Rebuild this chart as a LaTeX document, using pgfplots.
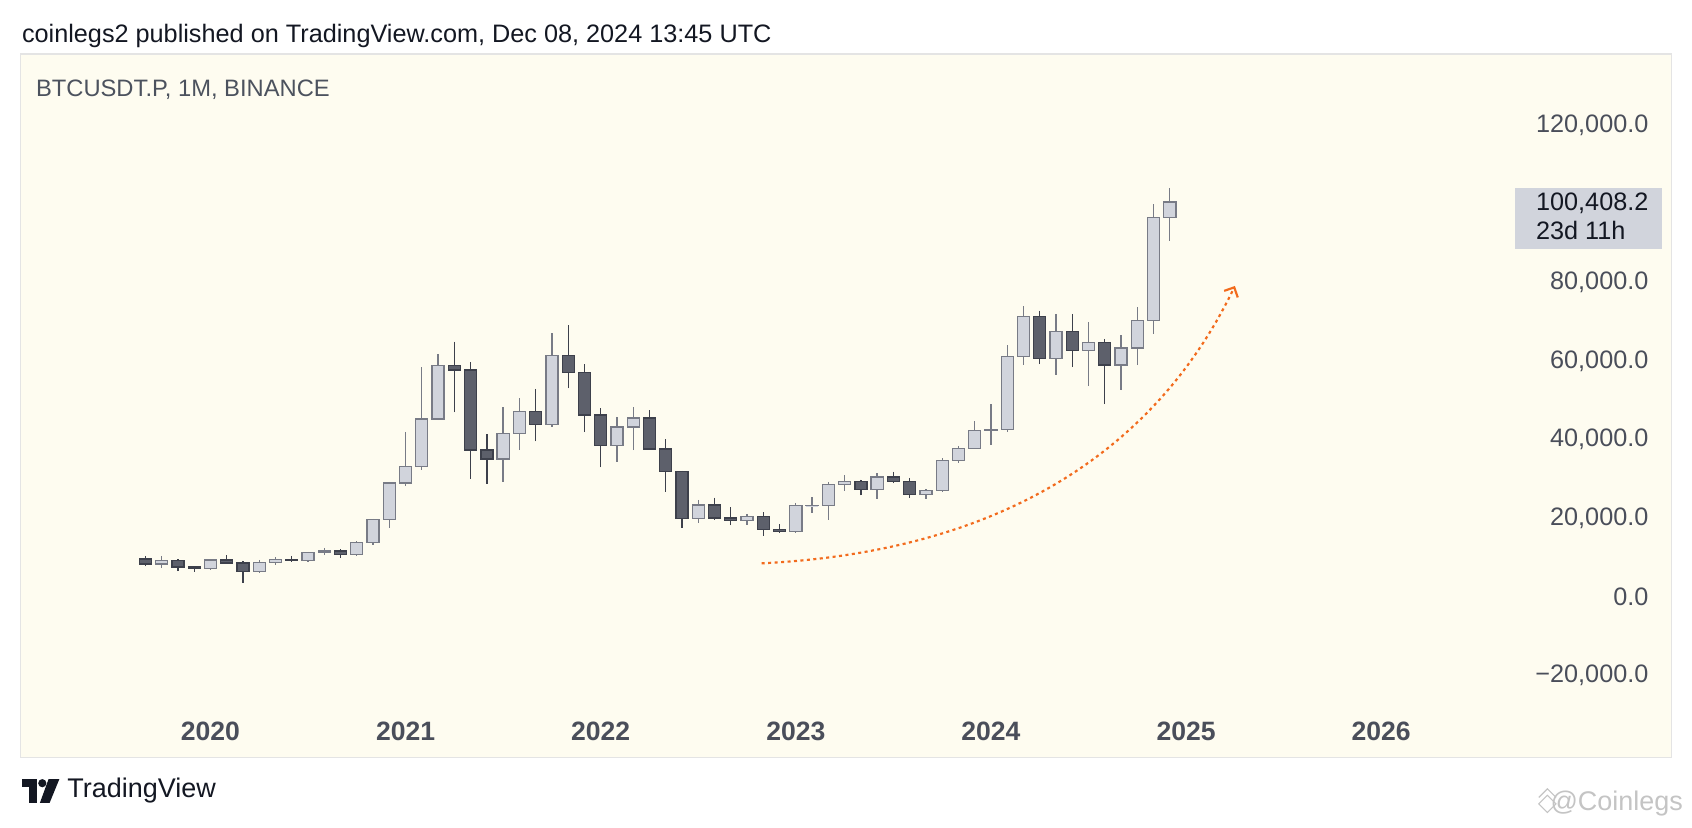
\documentclass[border=0pt]{standalone}
\usepackage{fontspec}
\setmainfont{Liberation Sans}
\usepackage{pgfplots}
\usepackage{pgfplotstable}
\pgfplotsset{compat=1.18}
\usepgfplotslibrary{statistics}
\usetikzlibrary{arrows.meta}
\definecolor{panelbg}{HTML}{FEFCF0}
\definecolor{panelborder}{HTML}{E4E4E4}
\definecolor{upfill}{HTML}{D1D4DC}
\definecolor{upline}{HTML}{787B86}
\definecolor{dnfill}{HTML}{5D606B}
\definecolor{dnline}{HTML}{3D404B}
\definecolor{txt}{HTML}{131722}
\definecolor{sub}{HTML}{4C525E}
\definecolor{ticktxt}{HTML}{4A4E5A}
\definecolor{arrowc}{HTML}{F26B1D}
\definecolor{wm}{HTML}{C4C4C4}

% BTCUSDT.P monthly candles, values in thousands of USDT; x = months from Jan 2020
\pgfplotstableread{
x o h l c
-4 9.60 10.40 7.70 8.30
-3 8.30 10.40 7.30 9.15
-2 9.15 9.50 6.50 7.55
-1 7.55 7.75 6.40 7.20
0 7.20 9.60 6.85 9.35
1 9.35 10.50 8.45 8.55
2 8.55 9.20 3.60 6.40
3 6.40 9.45 6.15 8.63
4 8.63 10.08 8.10 9.45
5 9.45 10.40 8.90 9.14
6 9.14 11.45 8.98 11.34
7 11.34 12.48 10.53 11.65
8 11.65 12.06 9.88 10.78
9 10.78 14.10 10.38 13.80
10 13.80 19.90 13.20 19.70
11 19.70 29.30 17.60 28.95
12 28.95 42.00 28.10 33.10
13 33.10 58.40 32.30 45.20
14 45.20 61.80 44.90 58.80
15 58.80 64.90 46.90 57.70
16 57.70 59.60 30.00 37.30
17 37.30 41.30 28.80 35.00
18 35.00 48.20 29.20 41.50
19 41.50 50.50 37.30 47.10
20 47.10 52.90 39.50 43.80
21 43.80 67.00 43.20 61.30
22 61.30 69.00 53.00 57.00
23 57.00 59.10 41.90 46.20
24 46.20 47.95 32.90 38.50
25 38.50 45.80 34.30 43.20
26 43.20 48.20 37.20 45.50
27 45.50 47.45 37.60 37.60
28 37.60 40.00 26.70 31.80
29 31.80 32.00 17.60 19.95
30 19.95 24.70 18.80 23.30
31 23.30 25.20 19.55 20.05
32 20.05 22.80 18.15 19.42
33 19.42 21.10 18.20 20.49
34 20.49 21.48 15.45 17.16
35 17.16 18.40 16.25 16.54
36 16.54 23.96 16.50 23.12
37 23.12 25.25 21.35 23.14
38 23.14 29.20 19.55 28.46
39 28.46 31.00 26.94 29.25
40 29.25 29.82 25.80 27.20
41 27.20 31.45 24.75 30.47
42 30.47 31.80 28.85 29.23
43 29.23 30.25 25.15 25.93
44 25.93 27.48 24.90 26.96
45 26.96 35.20 26.55 34.65
46 34.65 38.45 34.10 37.72
47 37.72 44.70 37.60 42.28
48 42.28 48.95 38.55 42.58
49 42.58 64.00 41.88 61.16
50 61.16 73.88 59.00 71.30
51 71.30 72.80 59.15 60.65
52 60.65 72.00 56.50 67.50
53 67.50 71.98 58.40 62.70
54 62.70 70.00 53.50 64.60
55 64.60 65.60 49.00 58.95
56 58.95 66.50 52.50 63.30
57 63.30 73.60 58.85 70.25
58 70.25 99.80 66.80 96.40
59 96.40 104.00 90.50 100.41
}\btc

\pgfplotsset{
  upcandle/.style={draw=upline, fill=upfill, line width=0.6pt, mark=none, solid},
  dncandle/.style={draw=dnline, fill=dnfill, line width=0.6pt, mark=none, solid},
}

\begin{document}
\begin{tikzpicture}
\useasboundingbox (0,0) rectangle (784pt,383.5pt);
\begin{axis}[
  at={(9.5pt,32.5pt)}, anchor=south west,
  scale only axis, width=765pt, height=326pt,
  xmin=-11.68, xmax=89.85, ymin=-40.9, ymax=138.07,
  axis background/.style={fill=panelbg},
  axis line style={draw=panelborder, line width=0.6pt},
  xtick={0,12,24,36,48,60,72},
  xticklabels={2020,2021,2022,2023,2024,2025,2026},
  ytick={-20,0,20,40,60,80,120},
  yticklabels={{−20,000.0},{0.0},{20,000.0},{40,000.0},{60,000.0},{80,000.0},{120,000.0}},
  major tick length=0pt, tick style={draw=none},
  xticklabel style={anchor=center, yshift=12pt, inner sep=0pt,
    font=\fontsize{12.3}{13}\selectfont\bfseries, text=ticktxt},
  yticklabel pos=right,
  yticklabel style={anchor=east, xshift=-10.5pt, inner sep=0pt,
    font=\fontsize{11.7}{12}\selectfont, text=ticktxt},
  boxplot/draw direction=y,
  boxplot/box extend=0.74, boxplot/whisker extend=0,
]
\pgfplotsinvokeforeach{0,...,63}{%
  \pgfplotstablegetelem{#1}{x}\of\btc\let\vX\pgfplotsretval
  \pgfplotstablegetelem{#1}{o}\of\btc\let\vO\pgfplotsretval
  \pgfplotstablegetelem{#1}{h}\of\btc\let\vH\pgfplotsretval
  \pgfplotstablegetelem{#1}{l}\of\btc\let\vL\pgfplotsretval
  \pgfplotstablegetelem{#1}{c}\of\btc\let\vC\pgfplotsretval
  \ifdim\vC pt<\vO pt
    \edef\candlecmd{\noexpand\addplot[dncandle, boxplot prepared={draw position=\vX,
      lower whisker=\vL, lower quartile=\vC, median=\vC, upper quartile=\vO, upper whisker=\vH}] coordinates {};}%
  \else
    \edef\candlecmd{\noexpand\addplot[upcandle, boxplot prepared={draw position=\vX,
      lower whisker=\vL, lower quartile=\vO, median=\vO, upper quartile=\vC, upper whisker=\vH}] coordinates {};}%
  \fi
  \candlecmd
}
\draw[arrowc, line width=1pt, dash pattern=on 1.4pt off 1.6pt,
  -{Straight Barb[length=3.5pt,width=7pt,line width=1pt]}]
  (axis cs:33.9,8.5) .. controls (axis cs:50.1,11.8) and (axis cs:58.7,42.0) .. (axis cs:63.0,79.05);
\end{axis}
% title and subtitle
\node[anchor=west, inner sep=0pt, font=\fontsize{11.7}{13}\selectfont, text=txt] at (10pt,367pt)
  {coinlegs2 published on TradingView.com, Dec 08, 2024 13:45 UTC};
\node[anchor=west, inner sep=0pt, font=\fontsize{11}{12}\selectfont, text=sub] at (16.5pt,342pt)
  {BTCUSDT.P, 1M, BINANCE};
% last price box
\fill[upfill] (702pt,268pt) rectangle (770pt,296.5pt);
\node (p) [anchor=east, inner sep=0pt, font=\fontsize{11.7}{12}\selectfont, text=txt] at (764pt,289.5pt) {100,408.2};
\node[anchor=west, inner sep=0pt, font=\fontsize{11.7}{12}\selectfont, text=txt] at ([yshift=-13pt]p.west) {23d 11h};
% TradingView logo
\fill[txt] (10pt,22.5pt) rectangle (17pt,19pt);
\fill[txt] (13.5pt,22.5pt) rectangle (17pt,11.5pt);
\fill[txt] (19.6pt,20.6pt) circle (1.9pt);
\fill[txt] (22.5pt,22.5pt) -- (27.5pt,22.5pt) -- (23pt,11.5pt) -- (18.5pt,11.5pt) -- cycle;
\node[anchor=west, inner sep=0pt, font=\fontsize{12.5}{14}\selectfont, text=txt] at (31pt,17pt) {TradingView};
% watermark
\draw[wm, line width=0.5pt] (713pt,11pt) -- (717pt,15pt) -- (721pt,11pt) -- (717pt,7pt) -- cycle;
\draw[wm, line width=0.5pt] (713pt,14pt) -- (717pt,18pt) -- (721pt,14pt);
\node[anchor=east, inner sep=0pt, font=\fontsize{12.5}{14}\selectfont, text=wm] at (780pt,11pt) {@Coinlegs};
\end{tikzpicture}
\end{document}
